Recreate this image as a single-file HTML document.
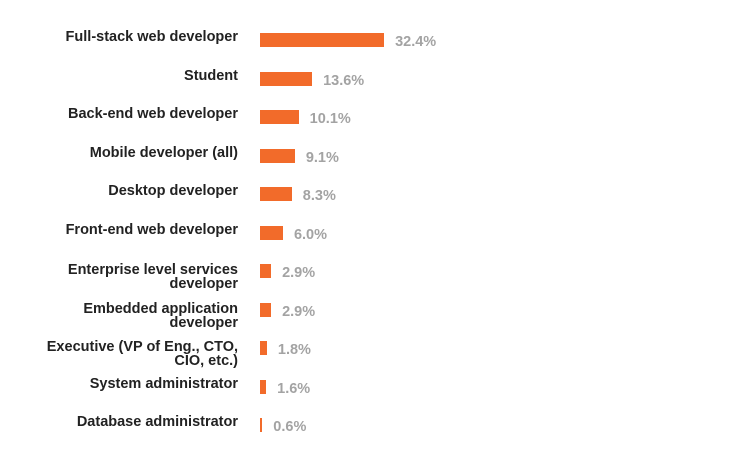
<!DOCTYPE html>
<html><head><meta charset="utf-8"><style>
body{margin:0;width:750px;height:460px;background:#fff;position:relative;overflow:hidden;font-family:"Liberation Sans",Arial,sans-serif;font-weight:bold}
.l{position:absolute;right:512px;text-align:right;font-size:14.5px;line-height:14px;color:#222;white-space:nowrap}
.b{position:absolute;left:260px;height:14px;background:#f26b2a}
.v{position:absolute;font-size:14.5px;line-height:14px;color:#a3a3a3}
</style></head><body>
<script>
const d=[["Full-stack web developer",32.4],["Student",13.6],["Back-end web developer",10.1],["Mobile developer (all)",9.1],["Desktop developer",8.3],["Front-end web developer",6.0],["Enterprise level services<br>developer",2.9],["Embedded application<br>developer",2.9],["Executive (VP of Eng., CTO,<br>CIO, etc.)",1.8],["System administrator",1.6],["Database administrator",0.6]];
let h="";
d.forEach((r,i)=>{const c=40+i*38.5;const w=Math.max(2,r[1]*3.83);const two=r[0].includes("<br>");
const lt=two?c-8:c-10;
h+=`<div class="l" style="top:${lt}px">${r[0]}</div>`;
h+=`<div class="b" style="top:${c-7}px;width:${w}px"></div>`;
h+=`<div class="v" style="top:${c-5}px;left:${260+w+11}px">${r[1].toFixed(1)}%</div>`;});
document.write(h);
</script>
</body></html>
